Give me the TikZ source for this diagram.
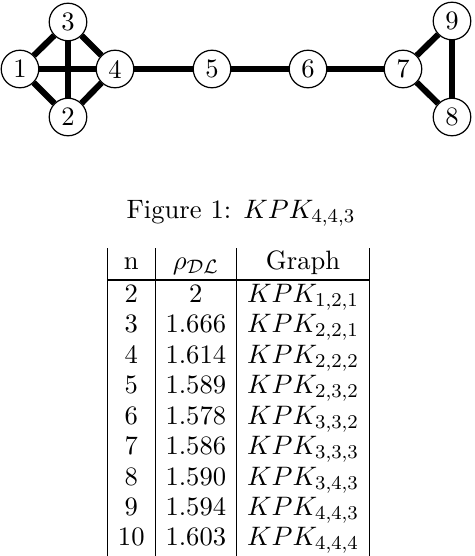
\documentclass[tikz,border=0pt]{standalone}
\usepackage{amsmath}
\usepackage{tikz}
\usetikzlibrary{positioning}
\tikzset{
  vertex/.style={circle, draw, line width=0.5pt, fill=white,
    inner sep=0pt, minimum size=15.4pt},
  bond/.style={line width=2.5pt},
}

\begin{document}
\begin{tikzpicture}[x=0.41pt, y=-0.41pt,
    every node/.style={font=\fontsize{10.9}{12}\selectfont}]
        \useasboundingbox (0,0) rectangle (474,556);
        % left K4 block
        \node[vertex] (v1) at (20,69) {1};
        \node[vertex] (v3) at (68,22) {3};
        \node[vertex] (v2) at (68,117) {2};
        \node[vertex] (v4) at (115,69) {4};
        % path in the middle
        \node[vertex] (v5) at (212,69) {5};
        \node[vertex] (v6) at (308,69) {6};
        % right triangle
        \node[vertex] (v7) at (403,69) {7};
        \node[vertex] (v9) at (452,21) {9};
        \node[vertex] (v8) at (452,117) {8};
        % edges, drawn under the circles
        \begin{scope}[on background layer/.try]
        \foreach \a/\b in {v1/v3, v1/v2, v1/v4, v3/v2, v3/v4, v2/v4,
            v4/v5, v5/v6, v6/v7, v7/v9, v7/v8, v9/v8}
          \draw[bond] (\a) -- (\b);
        \end{scope}
        % caption under the graph
        \node[anchor=base] (cap) at (241,218)
          {Figure 1:\hspace{5pt}$KPK_{4,4,3}$};
        % table of values (runs on past the lower edge)
        \renewcommand{\arraystretch}{1.04}
        \setlength{\tabcolsep}{4.3pt}
        \node[anchor=north west, inner sep=0pt] (tab) at (107,248) {%
          \begin{tabular}{|c|c|c|}
            n & $\rho_{\mathcal{DL}}$ & Graph \\
            \noalign{\hrule height 0.9pt}
            2 & 2 & $KPK_{1,2,1}$ \\
            3 & 1.666 & $KPK_{2,2,1}$ \\
            4 & 1.614 & $KPK_{2,2,2}$ \\
            5 & 1.589 & $KPK_{2,3,2}$ \\
            6 & 1.578 & $KPK_{3,3,2}$ \\
            7 & 1.586 & $KPK_{3,3,3}$ \\
            8 & 1.590 & $KPK_{3,4,3}$ \\
            9 & 1.594 & $KPK_{4,4,3}$ \\
            10 & 1.603 & $KPK_{4,4,4}$ \\[8pt]
          \end{tabular}};
      \end{tikzpicture}
\end{document}
